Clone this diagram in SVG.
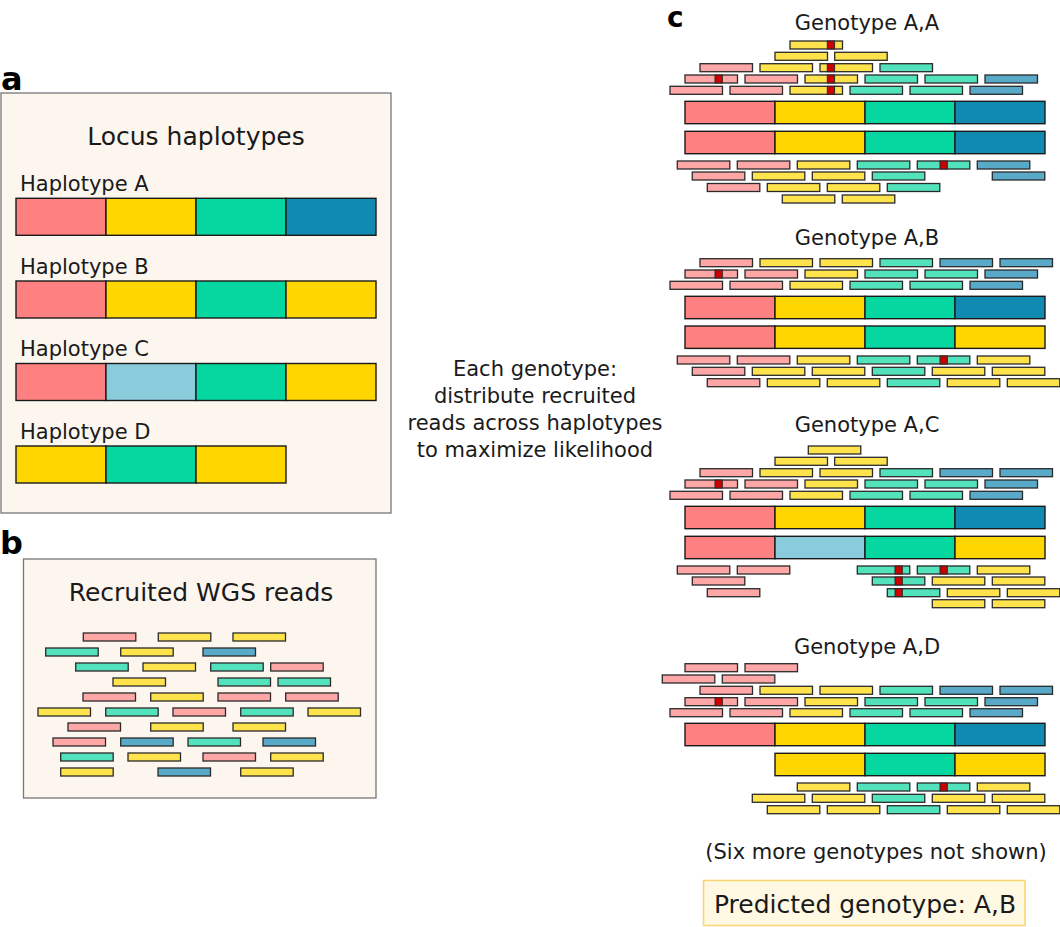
<svg xmlns="http://www.w3.org/2000/svg" xmlns:xlink="http://www.w3.org/1999/xlink" width="1060" height="927" viewBox="0 0 1060 927">
<style>
text{font-family:"DejaVu Sans","Liberation Sans",sans-serif;fill:#1a1a1a}
.lbl{font-weight:bold;font-size:32px;fill:#000}
.ttl{font-size:25px;text-anchor:middle}
.hap{font-size:21px}
.gt{font-size:21px;text-anchor:middle}
.mid{font-size:21px;text-anchor:middle}
.panel{fill:#fdf6ef;stroke:#777;stroke-width:1.3}
.seg{stroke:#1a1a1a;stroke-width:1.4}
.sP{fill:#ff8080}.sY{fill:#ffd600}.sT{fill:#06d6a0}.sB{fill:#118ab2}.sL{fill:#8acbdc}
.p{fill:#ffa6a6}.y{fill:#ffe34d}.t{fill:#52e2bc}.b{fill:#58aac8}
</style>
<defs>
<rect id="rd" width="52.5" height="8" stroke="#2a2a2a" stroke-width="1.3"/>
<rect id="mk" width="7.3" height="8" fill="#cc0000" stroke="#2a2a2a" stroke-width="1"/>
</defs>

<g id="panel-a">
<text class="lbl" x="1" y="90">a</text>
<rect class="panel" x="1" y="93" width="390" height="420"/>
<text class="ttl" x="196" y="145">Locus haplotypes</text>
<g id="hap-A">
<text class="hap" x="20" y="191">Haplotype A</text>
<rect class="seg sP" x="16" y="198.3" width="90" height="37"/>
<rect class="seg sY" x="106" y="198.3" width="90" height="37"/>
<rect class="seg sT" x="196" y="198.3" width="90" height="37"/>
<rect class="seg sB" x="286" y="198.3" width="90" height="37"/>
</g>
<g id="hap-B">
<text class="hap" x="20" y="273.5">Haplotype B</text>
<rect class="seg sP" x="16" y="281" width="90" height="37"/>
<rect class="seg sY" x="106" y="281" width="90" height="37"/>
<rect class="seg sT" x="196" y="281" width="90" height="37"/>
<rect class="seg sY" x="286" y="281" width="90" height="37"/>
</g>
<g id="hap-C">
<text class="hap" x="20" y="356">Haplotype C</text>
<rect class="seg sP" x="16" y="363.5" width="90" height="37"/>
<rect class="seg sL" x="106" y="363.5" width="90" height="37"/>
<rect class="seg sT" x="196" y="363.5" width="90" height="37"/>
<rect class="seg sY" x="286" y="363.5" width="90" height="37"/>
</g>
<g id="hap-D">
<text class="hap" x="20" y="438.5">Haplotype D</text>
<rect class="seg sY" x="16" y="446" width="90" height="37"/>
<rect class="seg sT" x="106" y="446" width="90" height="37"/>
<rect class="seg sY" x="196" y="446" width="90" height="37"/>
</g>
</g>

<g id="panel-b">
<text class="lbl" x="0" y="554">b</text>
<rect class="panel" x="23.5" y="559" width="352.5" height="239"/>
<text class="ttl" x="201" y="601">Recruited WGS reads</text>
<g id="reads-b">
<use href="#rd" class="p" x="83.3" y="633"/><use href="#rd" class="y" x="158.3" y="633"/><use href="#rd" class="y" x="233" y="633"/>
<use href="#rd" class="t" x="45.7" y="648"/><use href="#rd" class="y" x="120.7" y="648"/><use href="#rd" class="b" x="203" y="648"/>
<use href="#rd" class="t" x="75.7" y="663"/><use href="#rd" class="y" x="143" y="663"/><use href="#rd" class="t" x="210.7" y="663"/><use href="#rd" class="p" x="270.7" y="663"/>
<use href="#rd" class="y" x="113" y="678"/><use href="#rd" class="t" x="218" y="678"/><use href="#rd" class="t" x="278" y="678"/>
<use href="#rd" class="p" x="83" y="693"/><use href="#rd" class="y" x="150.7" y="693"/><use href="#rd" class="p" x="218" y="693"/><use href="#rd" class="p" x="285.7" y="693"/>
<use href="#rd" class="y" x="38" y="708"/><use href="#rd" class="t" x="105.7" y="708"/><use href="#rd" class="p" x="173" y="708"/><use href="#rd" class="t" x="240.7" y="708"/><use href="#rd" class="y" x="308" y="708"/>
<use href="#rd" class="p" x="68" y="723"/><use href="#rd" class="y" x="150.7" y="723"/><use href="#rd" class="y" x="233" y="723"/>
<use href="#rd" class="p" x="53" y="738"/><use href="#rd" class="b" x="120.7" y="738"/><use href="#rd" class="t" x="188" y="738"/><use href="#rd" class="b" x="263" y="738"/>
<use href="#rd" class="t" x="60.7" y="753"/><use href="#rd" class="y" x="128" y="753"/><use href="#rd" class="p" x="203" y="753"/><use href="#rd" class="y" x="270.7" y="753"/>
<use href="#rd" class="y" x="60.7" y="768"/><use href="#rd" class="b" x="158" y="768"/><use href="#rd" class="y" x="240.7" y="768"/>
</g>
</g>

<g id="middle-text">
<text class="mid" x="535" y="376">Each genotype:</text>
<text class="mid" x="535" y="403">distribute recruited</text>
<text class="mid" x="535" y="430">reads across haplotypes</text>
<text class="mid" x="535" y="457">to maximize likelihood</text>
</g>

<g id="panel-c">
<text class="lbl" x="667" y="27" style="font-size:28px">c</text>

<g id="genotype-AA">
<text class="gt" x="867" y="30">Genotype A,A</text>
<use href="#rd" class="y" x="790" y="41"/><use href="#mk" x="827.3" y="41"/>
<use href="#rd" class="y" x="775" y="52.3"/><use href="#rd" class="y" x="834.7" y="52.3"/>
<use href="#rd" class="p" x="700" y="63.7"/><use href="#rd" class="y" x="760" y="63.7"/><use href="#rd" class="y" x="820" y="63.7"/><use href="#mk" x="827.3" y="63.7"/><use href="#rd" class="t" x="880" y="63.7"/>
<use href="#rd" class="p" x="685" y="75"/><use href="#mk" x="715" y="75"/><use href="#rd" class="p" x="745" y="75"/><use href="#rd" class="y" x="805" y="75"/><use href="#mk" x="827.3" y="75"/><use href="#rd" class="t" x="865" y="75"/><use href="#rd" class="t" x="925" y="75"/><use href="#rd" class="b" x="985" y="75"/>
<use href="#rd" class="p" x="670" y="86.3"/><use href="#rd" class="p" x="730" y="86.3"/><use href="#rd" class="y" x="790" y="86.3"/><use href="#mk" x="827.3" y="86.3"/><use href="#rd" class="t" x="850" y="86.3"/><use href="#rd" class="t" x="910" y="86.3"/><use href="#rd" class="b" x="970" y="86.3"/>
<rect class="seg sP" x="685" y="101.3" width="90" height="22.4"/><rect class="seg sY" x="775" y="101.3" width="90" height="22.4"/><rect class="seg sT" x="865" y="101.3" width="90" height="22.4"/><rect class="seg sB" x="955" y="101.3" width="90" height="22.4"/>
<rect class="seg sP" x="685" y="131.3" width="90" height="22.4"/><rect class="seg sY" x="775" y="131.3" width="90" height="22.4"/><rect class="seg sT" x="865" y="131.3" width="90" height="22.4"/><rect class="seg sB" x="955" y="131.3" width="90" height="22.4"/>
<use href="#rd" class="p" x="677.3" y="161"/><use href="#rd" class="p" x="737.3" y="161"/><use href="#rd" class="y" x="797.3" y="161"/><use href="#rd" class="t" x="857.3" y="161"/><use href="#rd" class="t" x="917.3" y="161"/><use href="#mk" x="940" y="161"/><use href="#rd" class="b" x="977.3" y="161"/>
<use href="#rd" class="p" x="692.3" y="172"/><use href="#rd" class="y" x="752.3" y="172"/><use href="#rd" class="y" x="812.3" y="172"/><use href="#rd" class="t" x="872.3" y="172"/><use href="#rd" class="b" x="992.3" y="172"/>
<use href="#rd" class="p" x="707.3" y="183.5"/><use href="#rd" class="y" x="767.3" y="183.5"/><use href="#rd" class="y" x="827.3" y="183.5"/><use href="#rd" class="t" x="887.3" y="183.5"/>
<use href="#rd" class="y" x="782.3" y="195"/><use href="#rd" class="y" x="842.3" y="195"/>
</g>

<g id="genotype-AB">
<text class="gt" x="867" y="245">Genotype A,B</text>
<use href="#rd" class="p" x="700" y="258.7"/><use href="#rd" class="y" x="760" y="258.7"/><use href="#rd" class="y" x="820" y="258.7"/><use href="#rd" class="t" x="880" y="258.7"/><use href="#rd" class="b" x="940" y="258.7"/><use href="#rd" class="b" x="1000" y="258.7"/>
<use href="#rd" class="p" x="685" y="270"/><use href="#mk" x="715" y="270"/><use href="#rd" class="p" x="745" y="270"/><use href="#rd" class="y" x="805" y="270"/><use href="#rd" class="t" x="865" y="270"/><use href="#rd" class="t" x="925" y="270"/><use href="#rd" class="b" x="985" y="270"/>
<use href="#rd" class="p" x="670" y="281.3"/><use href="#rd" class="p" x="730" y="281.3"/><use href="#rd" class="y" x="790" y="281.3"/><use href="#rd" class="t" x="850" y="281.3"/><use href="#rd" class="t" x="910" y="281.3"/><use href="#rd" class="b" x="970" y="281.3"/>
<rect class="seg sP" x="685" y="296.3" width="90" height="22.4"/><rect class="seg sY" x="775" y="296.3" width="90" height="22.4"/><rect class="seg sT" x="865" y="296.3" width="90" height="22.4"/><rect class="seg sB" x="955" y="296.3" width="90" height="22.4"/>
<rect class="seg sP" x="685" y="326" width="90" height="22.4"/><rect class="seg sY" x="775" y="326" width="90" height="22.4"/><rect class="seg sT" x="865" y="326" width="90" height="22.4"/><rect class="seg sY" x="955" y="326" width="90" height="22.4"/>
<use href="#rd" class="p" x="677.3" y="356"/><use href="#rd" class="p" x="737.3" y="356"/><use href="#rd" class="y" x="797.3" y="356"/><use href="#rd" class="t" x="857.3" y="356"/><use href="#rd" class="t" x="917.3" y="356"/><use href="#mk" x="940" y="356"/><use href="#rd" class="y" x="977.3" y="356"/>
<use href="#rd" class="p" x="692.3" y="367.3"/><use href="#rd" class="y" x="752.3" y="367.3"/><use href="#rd" class="y" x="812.3" y="367.3"/><use href="#rd" class="t" x="872.3" y="367.3"/><use href="#rd" class="y" x="932.3" y="367.3"/><use href="#rd" class="y" x="992.3" y="367.3"/>
<use href="#rd" class="p" x="707.3" y="378.7"/><use href="#rd" class="y" x="767.3" y="378.7"/><use href="#rd" class="y" x="827.3" y="378.7"/><use href="#rd" class="t" x="887.3" y="378.7"/><use href="#rd" class="y" x="947.3" y="378.7"/><use href="#rd" class="y" x="1007.3" y="378.7"/>
</g>

<g id="genotype-AC">
<text class="gt" x="867" y="432">Genotype A,C</text>
<use href="#rd" class="y" x="808.3" y="446"/>
<use href="#rd" class="y" x="775" y="457.3"/><use href="#rd" class="y" x="834.7" y="457.3"/>
<use href="#rd" class="p" x="700" y="468.7"/><use href="#rd" class="y" x="760" y="468.7"/><use href="#rd" class="y" x="820" y="468.7"/><use href="#rd" class="t" x="880" y="468.7"/><use href="#rd" class="b" x="940" y="468.7"/><use href="#rd" class="b" x="1000" y="468.7"/>
<use href="#rd" class="p" x="685" y="480"/><use href="#mk" x="715" y="480"/><use href="#rd" class="p" x="745" y="480"/><use href="#rd" class="y" x="805" y="480"/><use href="#rd" class="t" x="865" y="480"/><use href="#rd" class="t" x="925" y="480"/><use href="#rd" class="b" x="985" y="480"/>
<use href="#rd" class="p" x="670" y="491.3"/><use href="#rd" class="p" x="730" y="491.3"/><use href="#rd" class="y" x="790" y="491.3"/><use href="#rd" class="t" x="850" y="491.3"/><use href="#rd" class="t" x="910" y="491.3"/><use href="#rd" class="b" x="970" y="491.3"/>
<rect class="seg sP" x="685" y="506.3" width="90" height="22.4"/><rect class="seg sY" x="775" y="506.3" width="90" height="22.4"/><rect class="seg sT" x="865" y="506.3" width="90" height="22.4"/><rect class="seg sB" x="955" y="506.3" width="90" height="22.4"/>
<rect class="seg sP" x="685" y="536.3" width="90" height="22.4"/><rect class="seg sL" x="775" y="536.3" width="90" height="22.4"/><rect class="seg sT" x="865" y="536.3" width="90" height="22.4"/><rect class="seg sY" x="955" y="536.3" width="90" height="22.4"/>
<use href="#rd" class="p" x="677.3" y="566"/><use href="#rd" class="p" x="737.3" y="566"/><use href="#rd" class="t" x="857.3" y="566"/><use href="#mk" x="895" y="566"/><use href="#rd" class="t" x="917.3" y="566"/><use href="#mk" x="940" y="566"/><use href="#rd" class="y" x="977.3" y="566"/>
<use href="#rd" class="p" x="692.3" y="577"/><use href="#rd" class="t" x="872.3" y="577"/><use href="#mk" x="895" y="577"/><use href="#rd" class="y" x="932.3" y="577"/><use href="#rd" class="y" x="992.3" y="577"/>
<use href="#rd" class="p" x="707.3" y="588.7"/><use href="#rd" class="t" x="887.3" y="588.7"/><use href="#mk" x="895" y="588.7"/><use href="#rd" class="y" x="947.3" y="588.7"/><use href="#rd" class="y" x="1007.3" y="588.7"/>
<use href="#rd" class="y" x="932.3" y="599.7"/><use href="#rd" class="y" x="992.3" y="599.7"/>
</g>

<g id="genotype-AD">
<text class="gt" x="867" y="654">Genotype A,D</text>
<use href="#rd" class="p" x="685" y="663.7"/><use href="#rd" class="p" x="745" y="663.7"/>
<use href="#rd" class="p" x="662.3" y="675"/><use href="#rd" class="p" x="722.3" y="675"/>
<use href="#rd" class="p" x="700" y="686.3"/><use href="#rd" class="y" x="760" y="686.3"/><use href="#rd" class="y" x="820" y="686.3"/><use href="#rd" class="t" x="880" y="686.3"/><use href="#rd" class="b" x="940" y="686.3"/><use href="#rd" class="b" x="1000" y="686.3"/>
<use href="#rd" class="p" x="685" y="697.7"/><use href="#mk" x="715" y="697.7"/><use href="#rd" class="p" x="745" y="697.7"/><use href="#rd" class="y" x="805" y="697.7"/><use href="#rd" class="t" x="865" y="697.7"/><use href="#rd" class="t" x="925" y="697.7"/><use href="#rd" class="b" x="985" y="697.7"/>
<use href="#rd" class="p" x="670" y="708.7"/><use href="#rd" class="p" x="730" y="708.7"/><use href="#rd" class="y" x="790" y="708.7"/><use href="#rd" class="t" x="850" y="708.7"/><use href="#rd" class="t" x="910" y="708.7"/><use href="#rd" class="b" x="970" y="708.7"/>
<rect class="seg sP" x="685" y="723.3" width="90" height="22.4"/><rect class="seg sY" x="775" y="723.3" width="90" height="22.4"/><rect class="seg sT" x="865" y="723.3" width="90" height="22.4"/><rect class="seg sB" x="955" y="723.3" width="90" height="22.4"/>
<rect class="seg sY" x="775" y="753.3" width="90" height="22.4"/><rect class="seg sT" x="865" y="753.3" width="90" height="22.4"/><rect class="seg sY" x="955" y="753.3" width="90" height="22.4"/>
<use href="#rd" class="y" x="797.3" y="783"/><use href="#rd" class="t" x="857.3" y="783"/><use href="#rd" class="t" x="917.3" y="783"/><use href="#mk" x="940" y="783"/><use href="#rd" class="y" x="977.3" y="783"/>
<use href="#rd" class="y" x="752.3" y="794.3"/><use href="#rd" class="y" x="812.3" y="794.3"/><use href="#rd" class="t" x="872.3" y="794.3"/><use href="#rd" class="y" x="932.3" y="794.3"/><use href="#rd" class="y" x="992.3" y="794.3"/>
<use href="#rd" class="y" x="767.3" y="805.7"/><use href="#rd" class="y" x="827.3" y="805.7"/><use href="#rd" class="t" x="887.3" y="805.7"/><use href="#rd" class="y" x="947.3" y="805.7"/><use href="#rd" class="y" x="1007.3" y="805.7"/>
</g>

<text class="gt" x="876" y="859">(Six more genotypes not shown)</text>
<g id="prediction">
<rect x="703.5" y="880.5" width="321.5" height="45" fill="#fff8e3" stroke="#f7d877" stroke-width="1.6"/>
<text x="865" y="913" style="font-size:25px;text-anchor:middle">Predicted genotype: A,B</text>
</g>
</g>
<g id="connectors"/>
</svg>
